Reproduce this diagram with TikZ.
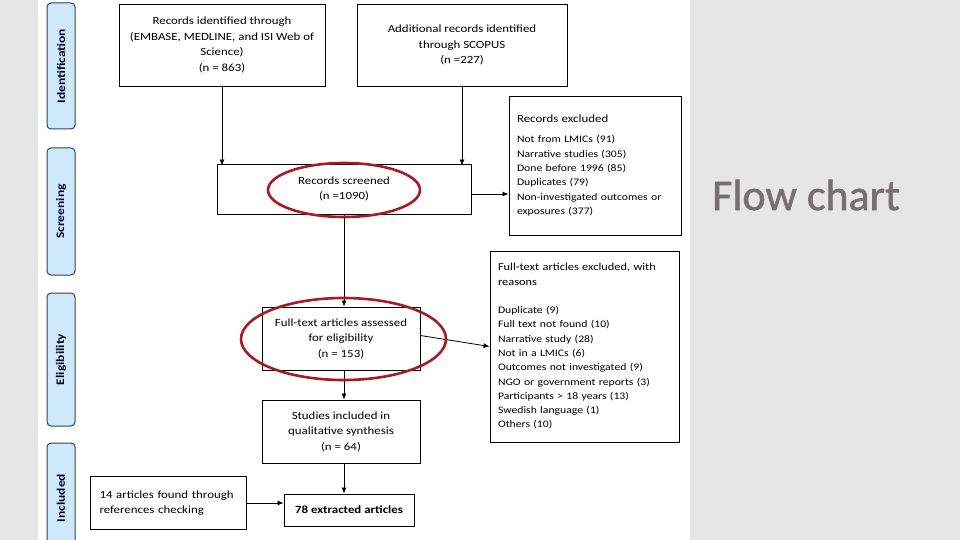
\documentclass[tikz,border=0pt]{standalone}
\usepackage{fontspec}
\setmainfont{Carlito}[FakeStretch=1.17]
\newfontfamily\titlefont{Carlito}[FakeBold=1.2]
\usepackage{tikz}
\usetikzlibrary{arrows.meta,positioning}
\definecolor{slidegrey}{RGB}{231,230,230}
\definecolor{tabblue}{RGB}{206,233,251}
\definecolor{tabedge}{RGB}{55,65,80}
\definecolor{ringred}{RGB}{168,26,36}
\definecolor{titlegrey}{RGB}{118,113,113}
\tikzset{
  prisma-box/.style={draw=black, fill=white, line width=0.9pt, align=center,
    font=\fontsize{11}{15.5}\selectfont, inner sep=0pt},
  prisma-note/.style={draw=black, fill=white, line width=0.9pt, align=left,
    font=\fontsize{10}{14.3}\selectfont, inner xsep=8pt, inner ysep=0pt},
  prisma-tab/.style={draw=tabedge, fill=tabblue, rounded corners=4pt, line width=1pt,
    rotate=90, minimum height=28pt, inner sep=0pt, text=black!85!blue,
    font=\bfseries\fontsize{11.5}{13}\selectfont},
  prisma-ring/.style={draw=ringred, line width=2.6pt},
  prisma-arrow/.style={-{Latex[length=6pt,width=5pt]}, line width=0.8pt}
}

\begin{document}
\begin{tikzpicture}[x=1pt, y=-1pt]
  % Slide background
  \fill[slidegrey] (0,0) rectangle (960,540);
  \fill[white] (38,0) rectangle (690,540);
  \useasboundingbox (0,0) rectangle (960,540);
  \begin{scope}
  \clip (38,0) rectangle (690,540);

  % Phase tabs
  \node[prisma-tab, minimum width=126pt] (tid) at (61,66) {Identification};
  \node[prisma-tab, minimum width=127pt] (tsc) at (61,211.5) {Screening};
  \node[prisma-tab, minimum width=133pt] (tel) at (61,359.5) {Eligibility};
  \node[prisma-tab, minimum width=110pt] (tin) at (61,498) {Included};

  % Identification
  \node[prisma-box, minimum width=206pt, minimum height=82pt] (dbs) at (222,45)
    {Records identified through\\(EMBASE, MEDLINE, and ISI Web of\\Science)\\(n = 863)};
  \node[prisma-box, minimum width=210pt, minimum height=82pt] (scopus) at (462,45)
    {Additional records identified\\through SCOPUS\\(n =227)};

  % Screening
  \node[prisma-box, minimum width=254pt, minimum height=50pt] (screened) at (344,189)
    {Records screened\\(n =1090)};
  \node[prisma-note, text width=156pt, minimum height=139pt] (excl1) at (595,165.5)
    {{\fontsize{11}{14.3}\selectfont Records excluded}\\[6pt]
     Not from LMICs (91)\\Narrative studies (305)\\Done before 1996 (85)\\
     Duplicates (79)\\Non-investigated outcomes or\\exposures (377)};

  % Eligibility
  \node[prisma-box, minimum width=158pt, minimum height=63pt] (assessed) at (341,338.5)
    {Full-text articles assessed\\for eligibility\\(n = 153)};
  \node[prisma-note, text width=173pt, minimum height=191pt] (excl2) at (584.5,346.5)
    {{\fontsize{10.6}{14.3}\selectfont Full-text articles excluded, with\\reasons}\\[14pt]
     Duplicate (9)\\Full text not found (10)\\Narrative study (28)\\Not in a LMICs (6)\\
     Outcomes not investigated (9)\\NGO or government reports (3)\\
     Participants > 18 years (13)\\Swedish language (1)\\Others (10)};
  \node[prisma-box, minimum width=158pt, minimum height=63pt] (qualit) at (341,431.5)
    {Studies included in\\qualitative synthesis\\(n = 64)};

  % Included
  \node[prisma-box, minimum width=130pt, minimum height=32pt] (extracted) at (349,510)
    {\textbf{78 extracted articles}};
  \node[prisma-box, align=left, text width=138pt, inner xsep=9pt, minimum height=53pt] (refcheck) at (168.5,503)
    {14 articles found through\\references checking};

  % Arrows
  \draw[prisma-arrow, xshift=14pt] (dbs.south) -- ([yshift=-2pt]dbs.south |- screened.north);
  \draw[prisma-arrow, xshift=-16pt] (scopus.south) -- ([yshift=-2pt]scopus.south |- screened.north);
  \draw[prisma-arrow] ([yshift=-5pt]screened.east) -- ([yshift=-5pt]excl1.west |- screened.east);
  \draw[prisma-arrow] (screened.south) -- (screened.south |- assessed.north);
  \draw[prisma-arrow] ([yshift=3pt]assessed.east) -- (excl2.west);
  \draw[prisma-arrow] (assessed.south -| screened.south) -- (screened.south |- qualit.north);
  \draw[prisma-arrow] (qualit.south -| screened.south) -- (screened.south |- extracted.north);
  \draw[prisma-arrow] (refcheck.east) -- (refcheck.east -| extracted.west);

  % Red rings
  \draw[prisma-ring] (344,190) ellipse [x radius=76, y radius=27];
  \draw[prisma-ring] (343.5,339) ellipse [x radius=102.5, y radius=41];
  \end{scope}

  % Slide title
  \node[text=titlegrey, font=\titlefont\fontsize{44}{50}\selectfont] (title) at (806,195) {Flow chart};
\end{tikzpicture}
\end{document}
